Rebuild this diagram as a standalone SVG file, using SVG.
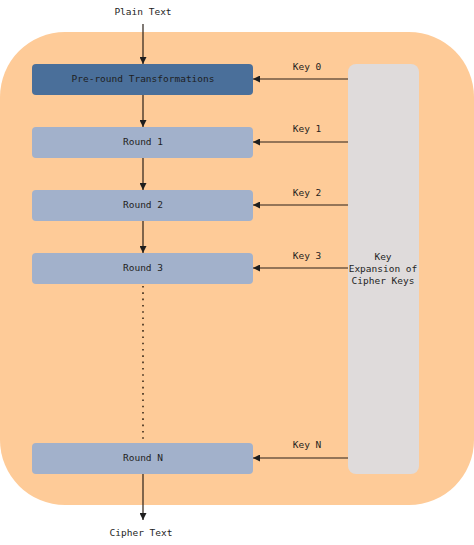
<svg xmlns="http://www.w3.org/2000/svg" width="474" height="545" viewBox="0 0 474 545">
<defs>
<marker id="ah" viewBox="0 0 10 10" refX="10" refY="5" markerWidth="7" markerHeight="7" markerUnits="userSpaceOnUse" orient="auto">
<path d="M0,0 L10,5 L0,10 z" fill="#1e1e1e"/>
</marker>
<style>
text{font-family:"DejaVu Sans Mono","Liberation Mono",monospace;font-size:9.5px;fill:#1e1e1e;text-anchor:middle}
.rnd{fill:#a2b1cb}
.ln{stroke:#2a2018;stroke-width:1.2;fill:none}
</style>
</defs>
<rect x="0" y="32" width="474" height="473" rx="65" fill="#fecb98"/>
<g id="keyexp">
<rect x="348" y="64" width="71" height="410" rx="8" fill="#dfdbdb"/>
<text x="383" y="260">Key</text>
<text x="383" y="272">Expansion of</text>
<text x="383" y="284">Cipher Keys</text>
</g>
<g id="plain"><text x="143" y="15">Plain Text</text></g>
<g id="pre"><rect x="32" y="64" width="221" height="31" rx="4" fill="#4a6f9a"/><text x="143" y="82">Pre-round Transformations</text></g>
<g id="r1"><rect class="rnd" x="32" y="127" width="221" height="31" rx="4"/><text x="143" y="145">Round 1</text></g>
<g id="r2"><rect class="rnd" x="32" y="190" width="221" height="31" rx="4"/><text x="143" y="208">Round 2</text></g>
<g id="r3"><rect class="rnd" x="32" y="253" width="221" height="31" rx="4"/><text x="143" y="271">Round 3</text></g>
<g id="rn"><rect class="rnd" x="32" y="443" width="221" height="31" rx="4"/><text x="143" y="461">Round N</text></g>
<g id="cipher"><text x="141" y="536">Cipher Text</text></g>
<g id="connectors">
<line class="ln" x1="143" y1="24" x2="143" y2="64" marker-end="url(#ah)"/>
<line class="ln" x1="143" y1="95" x2="143" y2="127" marker-end="url(#ah)"/>
<line class="ln" x1="143" y1="158" x2="143" y2="190" marker-end="url(#ah)"/>
<line class="ln" x1="143" y1="221" x2="143" y2="253" marker-end="url(#ah)"/>
<line x1="143" y1="286" x2="143" y2="440" stroke="#3a2a1a" stroke-width="1.6" stroke-dasharray="1.6 4.7"/>
<line class="ln" x1="143" y1="474" x2="143" y2="520" marker-end="url(#ah)"/>
<line class="ln" x1="348" y1="79" x2="253" y2="79" marker-end="url(#ah)"/>
<line class="ln" x1="348" y1="142" x2="253" y2="142" marker-end="url(#ah)"/>
<line class="ln" x1="348" y1="205" x2="253" y2="205" marker-end="url(#ah)"/>
<line class="ln" x1="348" y1="268" x2="253" y2="268" marker-end="url(#ah)"/>
<line class="ln" x1="348" y1="458" x2="253" y2="458" marker-end="url(#ah)"/>
<text x="307" y="70">Key 0</text>
<text x="307" y="132">Key 1</text>
<text x="307" y="196">Key 2</text>
<text x="307" y="259">Key 3</text>
<text x="307" y="448">Key N</text>
</g>
</svg>
